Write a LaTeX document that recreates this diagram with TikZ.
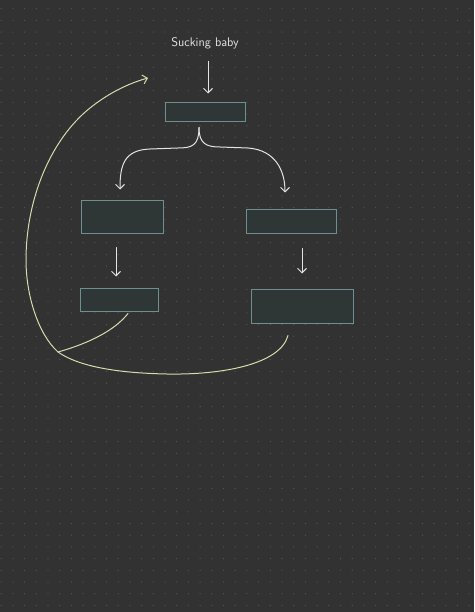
\documentclass[tikz,border=0pt]{standalone}
\usetikzlibrary{arrows.meta}
\definecolor{board}{HTML}{323232}
\definecolor{griddot}{HTML}{555555}
\definecolor{boxline}{HTML}{6E8F8F}
\definecolor{boxfill}{HTML}{2F3636}
\definecolor{chalk}{HTML}{E4E4E4}
\definecolor{loopline}{HTML}{D2DEAC}
\tikzset{
  card/.style={draw=boxline,fill=boxfill,line width=1pt,inner sep=0pt},
  pen/.style={draw=chalk,line width=1pt,line cap=round,
    -{Straight Barb[length=4.5pt,width=9pt]}},
  hook/.style={draw=loopline,line width=1pt,line cap=round}
}
\begin{document}
\begin{tikzpicture}[x=1pt,y=-1pt]
  \fill[board] (0,0) rectangle (474,612);
  \useasboundingbox (0,0) rectangle (474,612);
  % dotted board
  \foreach \i in {0,...,40}
    \foreach \j in {0,...,52}
      \fill[griddot] ({1.2+11.7*\i},{8.7+11.7*\j}) circle[radius=0.65pt];

  \node[text=chalk,font=\sffamily\fontsize{12.5}{14}\selectfont] (sucking) at (205,43) {Sucking baby};

  \node[card,minimum width=80pt,minimum height=19pt] (topbox) at (205,112.5) {};
  \node[card,minimum width=82pt,minimum height=32pt] (leftbox) at (122,217) {};
  \node[card,minimum width=90pt,minimum height=23pt] (rightbox) at (291,221.5) {};
  \node[card,minimum width=78pt,minimum height=23pt] (leftlow) at (119,299.5) {};
  \node[card,minimum width=102pt,minimum height=34pt] (rightlow) at (302,306) {};

  \draw[pen] ([xshift=3pt,yshift=-9pt]sucking.south) -- ([xshift=3pt,yshift=9pt]topbox.north);

  % the fork below the top box
  \coordinate (fork) at ([xshift=-6pt,yshift=-5pt]topbox.south);
  \draw[pen] (fork) .. controls +(0,18) and (192,148) .. (178,148) -- (150,149)
    .. controls (124,150) and (120,165) .. ([xshift=-2pt,yshift=11pt]leftbox.north);
  \draw[pen] (fork) .. controls +(0,16) and (206,147) .. (220,147) -- (248,148)
    .. controls (275,150) and (285,170) .. ([xshift=-6pt,yshift=17pt]rightbox.north);

  \draw[pen] ([xshift=-6pt,yshift=-14pt]leftbox.south) -- ([xshift=-3pt,yshift=11pt]leftlow.north);
  \draw[pen] ([xshift=11pt,yshift=-15pt]rightbox.south) -- ([yshift=15pt]rightlow.north);

  % loop back to the top
  \coordinate (join) at (58,352);
  \draw[hook] ([xshift=9pt,yshift=-2pt]leftlow.south) .. controls (115,330) and (90,343) .. (join);
  \draw[hook,-{Straight Barb[length=4.5pt,width=9pt]}] ([xshift=-14pt,yshift=-12pt]rightlow.south)
    .. controls (280,365) and (220,375) .. (167,374)
    .. controls (115,373) and (78,366) .. (join)
    .. controls (38,334) and (26,295) .. (26,260)
    .. controls (26,200) and (50,140) .. (90,108)
    .. controls (110,92) and (130,83) .. (148,78);
\end{tikzpicture}
\end{document}
